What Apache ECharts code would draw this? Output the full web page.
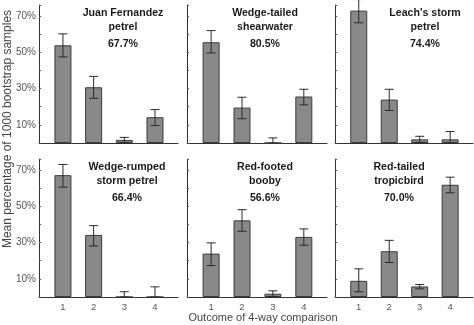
<!DOCTYPE html>
<html><head><meta charset="utf-8">
<script src="https://cdn.jsdelivr.net/npm/echarts@6/dist/echarts.min.js"></script>
<style>html,body{margin:0;padding:0;background:#fff}#c{width:474px;height:325px}</style>
</head><body><div id="c"></div>
<script>
const outcomes = [1, 2, 3, 4];
const yTicks = [10, 30, 50, 70];
const species = ['Juan Fernandez\npetrel', 'Wedge-tailed\nshearwater', "Leach's storm\npetrel",
                 'Wedge-rumped\nstorm petrel', 'Red-footed\nbooby', 'Red-tailed\ntropicbird'];
const accuracy = ['67.7%', '80.5%', '74.4%', '66.4%', '56.6%', '70.0%'];

const jfMean = [53.8, 30.7, 1.7, 14.2], jfLow = [47.4, 24.6, 0, 9.6], jfHigh = [60.1, 36.7, 3.1, 18.4];
const wtMean = [55.5, 19.5, 0, 25.6], wtLow = [49.6, 13.4, 0, 21.0], wtHigh = [61.9, 25.2, 2.8, 29.6];
const lsMean = [72.9, 23.9, 2.0, 2.0], lsLow = [66.2, 17.9, 0.3, 0], lsHigh = [79.0, 29.6, 3.7, 6.3];
const wrMean = [67.1, 34.2, 0, 0], wrLow = [60.5, 28.1, 0, 0], wrHigh = [73.0, 39.3, 2.9, 5.6];
const rfMean = [23.9, 42.2, 1.8, 33.1], rfLow = [17.3, 36.2, 0.3, 28.5], rfHigh = [29.8, 48.1, 3.4, 37.5];
const rtMean = [8.9, 25.2, 5.8, 61.8], rtLow = [2.9, 19.0, 4.5, 57.4], rtHigh = [15.5, 31.2, 6.9, 66.0];

const means = [jfMean, wtMean, lsMean, wrMean, rfMean, rtMean];
const lows = [jfLow, wtLow, lsLow, wrLow, rfLow, rtLow];
const highs = [jfHigh, wtHigh, lsHigh, wrHigh, rfHigh, rtHigh];

const colLeft = [39, 187, 335], colWidth = [139, 140, 138];
const rowTop = [5, 159], rowHeight = 138;
const titleX = [123, 265, 425, 127, 265, 399];
const axisColor = '#333';
const grids = [], xAxes = [], yAxes = [], series = [], graphics = [];

for (let i = 0; i < 6; i++) {
  const r = Math.floor(i / 3), c = i % 3;
  grids.push({left: colLeft[c], top: rowTop[r], width: colWidth[c], height: rowHeight});
  xAxes.push({
    gridIndex: i, type: 'value', min: 0.22, max: 4.75,
    splitLine: {show: false},
    axisLine: {show: true, onZero: false, lineStyle: {color: axisColor, width: 1}},
    axisTick: {show: false},
    axisLabel: {show: r === 1, customValues: outcomes, color: '#555', fontSize: 9.5, margin: 5, fontFamily: 'Liberation Sans'}
  });
  yAxes.push({
    gridIndex: i, type: 'value', min: 0, max: 76, interval: 10,
    splitLine: {show: false},
    axisLine: {show: true, lineStyle: {color: axisColor, width: 1}},
    axisTick: {show: true, inside: true, length: 2, lineStyle: {color: '#555'}},
    axisLabel: {show: c === 0, color: '#555', fontSize: 10, margin: 3, fontFamily: 'Liberation Sans',
      formatter: v => yTicks.indexOf(v) >= 0 ? v + '%' : ''}
  });
  series.push({
    type: 'bar', xAxisIndex: i, yAxisIndex: i, barWidth: 17,
    itemStyle: {color: '#898989', borderColor: '#3a3a3a', borderWidth: 1},
    data: outcomes.map((o, k) => [o, means[i][k]]),
    silent: true
  });
  series.push({
    type: 'custom', xAxisIndex: i, yAxisIndex: i,
    data: outcomes.map((o, k) => [o, lows[i][k], highs[i][k]]),
    renderItem: (params, api) => {
      const p1 = api.coord([api.value(0), api.value(1)]);
      const p2 = api.coord([api.value(0), api.value(2)]);
      const hw = 4.5;
      const st = {stroke: '#2a2a2a', lineWidth: 1};
      return {type: 'group', children: [
        {type: 'line', shape: {x1: p1[0], y1: p1[1], x2: p2[0], y2: p2[1]}, style: st},
        {type: 'line', shape: {x1: p1[0] - hw, y1: p1[1], x2: p1[0] + hw, y2: p1[1]}, style: st},
        {type: 'line', shape: {x1: p2[0] - hw, y1: p2[1], x2: p2[0] + hw, y2: p2[1]}, style: st}
      ]};
    },
    silent: true, z: 5
  });
  const ty = rowTop[r] + 1;
  graphics.push({type: 'text', x: titleX[i], y: ty,
    style: {text: species[i], textAlign: 'center', textVerticalAlign: 'top', lineHeight: 14,
      font: 'bold 10.6px "Liberation Sans"', fill: '#1a1a1a'}});
  graphics.push({type: 'text', x: titleX[i], y: ty + 31,
    style: {text: accuracy[i], textAlign: 'center', textVerticalAlign: 'top', lineHeight: 14,
      font: 'bold 10.6px "Liberation Sans"', fill: '#1a1a1a'}});
}
graphics.push({type: 'text', x: 8, y: 129, rotation: Math.PI / 2,
  style: {text: 'Mean percentage of 1000 bootstrap samples', textAlign: 'center', textVerticalAlign: 'middle',
    font: '12px "Liberation Sans"', fill: '#444'}});
graphics.push({type: 'text', x: 263, y: 318,
  style: {text: 'Outcome of 4-way comparison', textAlign: 'center', textVerticalAlign: 'middle',
    font: '11px "Liberation Sans"', fill: '#444'}});

const chart = echarts.init(document.getElementById('c'), null, {renderer: 'canvas'});
chart.setOption({animation: false, grid: grids, xAxis: xAxes, yAxis: yAxes, series: series, graphic: graphics});
</script></body></html>
